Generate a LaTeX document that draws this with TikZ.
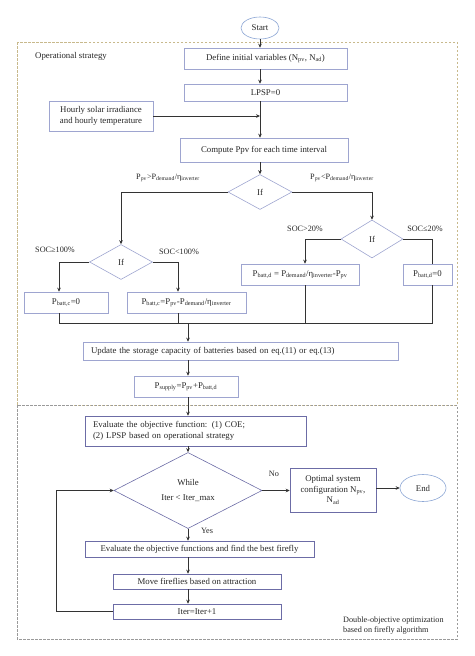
\documentclass[tikz,border=0pt]{standalone}
\usepackage{fontspec}
\setmainfont{Liberation Serif}
\usetikzlibrary{shapes.geometric,arrows.meta,calc}
\definecolor{boxa}{HTML}{9EA5D0}
\definecolor{boxb}{HTML}{6C6CA6}
\definecolor{ellc}{HTML}{8CA6D4}
\definecolor{tanc}{HTML}{C8B98C}
\definecolor{greyc}{HTML}{9A9A9A}
\definecolor{linec}{HTML}{333333}
\newcommand{\sbs}[1]{\textsubscript{#1}}
\begin{document}
\begin{tikzpicture}[x=1pt,y=-1pt,
  every node/.style={font=\fontsize{8.8}{10.5}\selectfont, inner sep=0pt, text=black!85},
  boxA/.style={draw=boxa, line width=0.6pt, rectangle, align=center},
  boxB/.style={draw=boxb, line width=0.6pt, rectangle, align=center},
  ell/.style={draw=ellc, line width=0.6pt, ellipse},
  dia/.style={draw=boxa, line width=0.6pt, diamond},
  diaB/.style={draw=boxb, line width=0.6pt, diamond},
  arr/.style={draw=linec, line width=0.6pt, -{Stealth[length=4pt,width=3.6pt]}},
  ln/.style={draw=linec, line width=0.6pt},
  lbl/.style={font=\fontsize{8.2}{10}\selectfont}
]
\useasboundingbox (0,0) rectangle (474,656);
% dashed regions
\draw[tanc, line width=0.7pt, dash pattern=on 2.5pt off 1.5pt] (17,42) rectangle (457,405);
\draw[greyc, line width=0.7pt, dash pattern=on 2.5pt off 1.5pt] (17,405) rectangle (457,639);
\node[anchor=west] (ops) at (35,56) {Operational strategy};
\node[anchor=west, align=left, lbl] (dbl) at (343,625.5) {Double-objective optimization\\based on firefly algorithm};

% nodes
\node[ell, minimum width=38, minimum height=22] (start) at (260,28) {Start};
\node[boxA, minimum width=163, minimum height=21] (define) at (265.5,58.5) {Define initial variables (N\sbs{pv}, N\sbs{ad})};
\node[boxA, minimum width=163, minimum height=17] (lpsp) at (265.5,92.5) {LPSP=0};
\node[boxA, minimum width=104, minimum height=30] (hourly) at (101,116) {Hourly solar irradiance\\and hourly temperature};
\node[boxA, minimum width=168, minimum height=24] (compute) at (264,150) {Compute Ppv for each time interval};
\node[dia, minimum width=64, minimum height=35] (if1) at (260,192) {If};
\node[dia, minimum width=63, minimum height=35] (if2) at (121,262) {If};
\node[dia, minimum width=62, minimum height=38] (if3) at (372,239) {If};
\node[boxA, minimum width=84, minimum height=21] (pbc0) at (66,302.5) {P\sbs{batt,c}=0};
\node[boxA, minimum width=119, minimum height=21] (pbcc) at (186.5,302.5) {P\sbs{batt,c}=P\sbs{pv}-P\sbs{demand}/η\sbs{inverter}};
\node[boxA, minimum width=118, minimum height=21] (pbdd) at (300,274.5) {P\sbs{batt,d} = P\sbs{demand}/η\sbs{inverter}-P\sbs{pv}};
\node[boxA, minimum width=49, minimum height=21] (pbd0) at (427.5,274.5) {P\sbs{batt,d}=0};
\node[boxA, minimum height=18, text width=299, inner xsep=8, align=left] (update) at (240.5,351) {Update the storage capacity of batteries based on eq.(11) or eq.(13)};
\node[boxA, minimum width=104, minimum height=21] (supply) at (186,386.5) {P\sbs{supply}=P\sbs{pv}+P\sbs{batt,d}};
\node[boxB, minimum height=30, text width=205, inner xsep=8, align=left] (evalobj) at (195.5,431) {Evaluate the objective function: (1) COE;\\(2) LPSP based on operational strategy};
\node[diaB, minimum width=148, minimum height=65, align=center] (while) at (188,490.5) {While\\[5pt]Iter < Iter\_max};
\node[boxB, minimum width=86, minimum height=44] (optimal) at (333,490) {Optimal system\\configuration N\sbs{pv},\\N\sbs{ad}};
\node[ell, minimum width=46, minimum height=27] (end) at (423,488) {End};
\node[boxB, minimum width=229, minimum height=16] (evalf) at (199.5,549) {Evaluate the objective functions and find the best firefly};
\node[boxB, minimum width=168, minimum height=15] (move) at (197,581.5) {Move fireflies based on attraction};
\node[boxB, minimum width=168, minimum height=15] (iter) at (197,611.5) {Iter=Iter+1};

% labels
\node[lbl] (l1) at (168,178) {P\sbs{pv}>P\sbs{demand}/η\sbs{inverter}};
\node[lbl] (l2) at (342,178) {P\sbs{pv}<P\sbs{demand}/η\sbs{inverter}};
\node[lbl] (l3) at (55,250) {SOC≥100\%};
\node[lbl] (l4) at (179,252) {SOC<100\%};
\node[lbl] (l5) at (305,229) {SOC>20\%};
\node[lbl] (l6) at (425,229) {SOC≤20\%};
\node[lbl] (lno) at (274,474) {No};
\node[lbl] (lyes) at (207,531) {Yes};

% coordinates
\coordinate (spine) at (260,0);
\coordinate (merge) at (188,323);
\coordinate (mR) at (432,323);

% connectors
\draw[arr] (start.south) -- (start.south |- define.north);
\draw[arr] (define.south -| spine) -- (lpsp.north -| spine);
\draw[arr] (lpsp.south -| spine) -- (compute.north -| spine);
\draw[arr] (hourly.east) -- (hourly.east -| spine);
\draw[arr] (compute.south -| spine) -- (if1.north);
\draw[arr] (if1.west) -| (if2.north);
\draw[arr] (if1.east) -| (if3.north);
\draw[arr] (if2.west) -| ($(pbc0.north)+(-7,0)$);
\draw[arr] (if2.east) -| ($(pbcc.north)+(-8.5,0)$);
\draw[arr] (if3.west) -| ($(pbdd.north)+(5,0)$);
\draw[ln] (if3.east) -| ($(pbd0.north)+(4.5,0)$);
\draw[ln] ($(pbc0.south)+(-7,0)$) |- (mR) -- ($(pbd0.south)+(4.5,0)$);
\draw[ln] ($(pbcc.south)+(-8.5,0)$) |- (merge);
\draw[ln] ($(pbdd.south)+(5,0)$) |- (merge);
\draw[arr] (merge) -- (merge |- update.north);
\draw[arr] (update.south -| merge) -- (supply.north -| merge);
\draw[arr] (supply.south -| merge) -- (evalobj.north -| merge);
\draw[arr] (evalobj.south -| merge) -- (while.north);
\draw[arr] (while.east) -- (optimal.west |- while.east);
\draw[arr] (optimal.east |- end.west) -- (end.west);
\draw[arr] (while.south) -- (evalf.north -| while.south);
\draw[arr] (evalf.south -| merge) -- (move.north -| merge);
\draw[arr] (move.south -| merge) -- (iter.north -| merge);
\draw[arr] (iter.west) -- ++(-56,0) |- (while.west);
\end{tikzpicture}
\end{document}
